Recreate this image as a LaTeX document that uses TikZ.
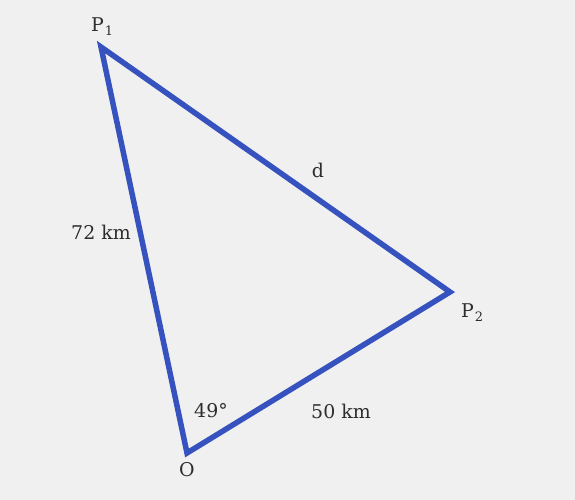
\documentclass[tikz,border=0pt]{standalone}
\usepackage{fontspec}
\setmainfont{DejaVu Serif}
\definecolor{bg}{HTML}{F0F0F0}
\definecolor{edge}{RGB}{53,82,190}
\definecolor{txt}{HTML}{2E2E2E}
\newcommand{\sbs}[1]{\kern1bp\raisebox{-4bp}{\fontsize{13}{15}\selectfont #1}}
\begin{document}
\begin{tikzpicture}[x=1bp,y=1bp,
  side/.style={draw=edge,line width=5.5bp,line join=miter},
  lbl/.style={text=txt,font=\fontsize{19}{23}\selectfont,inner sep=0pt}]
\fill[bg] (0,0) rectangle (575,500);
\useasboundingbox (0,0) rectangle (575,500);
\coordinate (P1) at (101,453);
\coordinate (P2) at (450,208);
\coordinate (O) at (187,47);
\draw[side] (P1) -- (P2) -- (O) -- cycle;
\node[lbl,anchor=base west] (lp1) at (91,468) {P\sbs{1}};
\node[lbl] (ld) at (318,330) {d};
\node[lbl] (l72) at (101,268) {72 km};
\node[lbl,anchor=base west] (lp2) at (461,182) {P\sbs{2}};
\node[lbl] (lang) at (211,89) {49°};
\node[lbl] (l50) at (341,89) {50 km};
\node[lbl] (lo) at (187,30) {O};
\end{tikzpicture}
\end{document}
